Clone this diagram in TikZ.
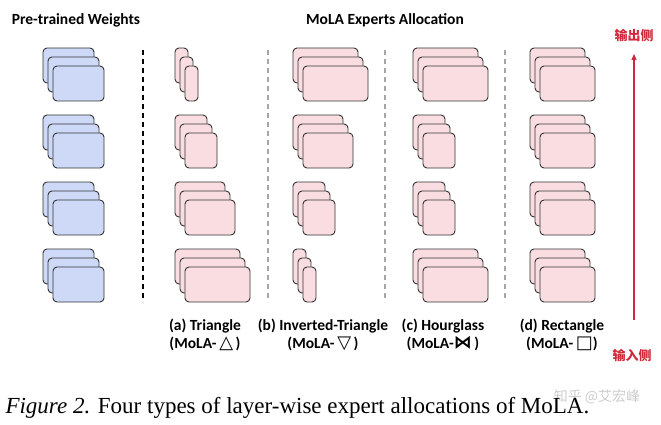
\documentclass[tikz,border=0pt]{standalone}
\usepackage{fontspec}
\setmainfont{Liberation Serif}
\setsansfont{Carlito}
\newfontfamily\cjk{Noto Sans CJK SC}
\newfontfamily\symfont{DejaVu Sans}
\usetikzlibrary{arrows.meta}
\definecolor{pblue}{HTML}{CDD9F6}
\definecolor{ppink}{HTML}{FADDE1}
\definecolor{edge}{HTML}{333333}
\definecolor{myred}{HTML}{D0283A}
\tikzset{card/.style={draw=edge,line width=0.9pt,rounded corners=4pt},
 lab/.style={font=\sffamily\bfseries\fontsize{15.5}{18}\selectfont,align=center},
 sep/.style={dashed,line width=1.2pt,dash pattern=on 5pt off 4pt}}
\newcommand\mystack[4]{% x y w color
 \foreach \k in {0,1,2}{\draw[card,fill=#4] ({#1+5*\k},{#2+9*\k}) rectangle ++(#3,35);}}
\newcommand\symb[1]{{\symfont\bfseries\fontsize{18}{18}\selectfont #1}}
\begin{document}
\begin{tikzpicture}[x=1pt,y=-1pt]
\useasboundingbox (0,0) rectangle (661,425);
\node[lab] (h1) at (76,20) {Pre-trained Weights};
\node[lab] (h2) at (385,20) {MoLA Experts Allocation};
\foreach \y in {48,115,182,249}{\mystack{43}{\y}{51}{pblue}}
% (a)
\mystack{175}{48}{13}{ppink}\mystack{175}{115}{32}{ppink}\mystack{175}{182}{50}{ppink}\mystack{175}{249}{65}{ppink}
% (b)
\mystack{293}{48}{65}{ppink}\mystack{293}{115}{50}{ppink}\mystack{293}{182}{32}{ppink}\mystack{293}{249}{13}{ppink}
% (c)
\mystack{413}{48}{65}{ppink}\mystack{413}{115}{32}{ppink}\mystack{413}{182}{32}{ppink}\mystack{413}{249}{65}{ppink}
% (d)
\foreach \y in {48,115,182,249}{\mystack{530}{\y}{55}{ppink}}
\draw[sep,black] (143,50) -- (143,302);
\foreach \x in {268,385,505}{\draw[sep,gray!70] (\x,50) -- (\x,302);}
\node[lab] (la) at (205,335) {(a) Triangle\\(MoLA-\,\symb{△}\,)};
\node[lab] (lb) at (323,335) {(b) Inverted-Triangle\\(MoLA-\,\symb{▽}\,)};
\node[lab] (lc) at (443,335) {(c) Hourglass\\(MoLA-\symb{⋈}\,)};
\node[lab] (ld) at (562,335) {(d) Rectangle\\(MoLA-\,\symb{□})};
\node[text=myred,font=\cjk\bfseries\fontsize{13}{15}\selectfont] (out) at (634,36) {输出侧};
\node[text=myred,font=\cjk\bfseries\fontsize{13}{15}\selectfont] (in) at (632,356) {输入侧};
\coordinate (a0) at (634,320); \coordinate (a1) at (634,54);
\draw[myred,line width=1.2pt,-{Triangle[length=6pt,width=5pt]}] (a0) -- (a1);
\node[text=gray!40,font=\cjk\fontsize{14}{16}\selectfont] (wm) at (597,397) {知乎 @艾宏峰};
\node[anchor=west,font=\fontsize{23}{25}\selectfont] (cap) at (2,408) {\textit{Figure 2.} Four types of layer-wise expert allocations of MoLA.};
\end{tikzpicture}
\end{document}
